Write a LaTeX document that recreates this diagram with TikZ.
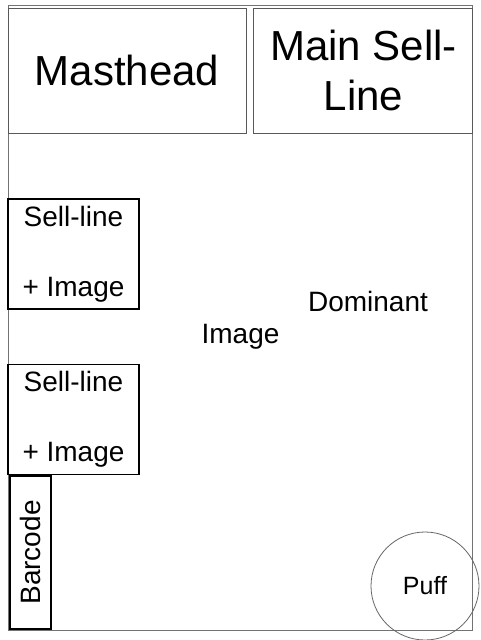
\documentclass[tikz,border=0pt]{standalone}
\usepackage{fontspec}
\setmainfont{Liberation Sans}
\usetikzlibrary{positioning}
\begin{document}
\begin{tikzpicture}[x=1pt,y=-1pt,align=center,inner sep=0pt]
\tikzstyle{panel}=[draw=black!65,line width=0.9pt]
\tikzstyle{insert}=[draw=black,line width=1.3pt,minimum width=131pt,minimum height=110pt,font=\fontsize{28}{70}\selectfont]
\tikzstyle{label}=[font=\fontsize{28}{32}\selectfont]

\useasboundingbox (0,0) rectangle (480,640);
\node[panel, draw=black!55, minimum width=464pt, minimum height=625pt] (page) at (240,317.5) {};

\node[panel, minimum width=238pt, minimum height=125pt, font=\fontsize{42}{50}\selectfont] (masthead) at (127,70.5) {Masthead};
\node[panel, minimum width=219pt, minimum height=125pt, font=\fontsize{42}{50}\selectfont] (mainsell) [right=7pt of masthead] {Main Sell-\\Line};

\node[insert] (sell1) at (73.5,254) {Sell-line\\+ Image};
\node[insert] (sell2) [below=54pt of sell1] {Sell-line\\+ Image};

\node[draw=black, line width=1.3pt, rotate=90, minimum width=153pt, minimum height=41pt, label] (barcode) at (30.5,552.5) {Barcode};

\node[label] (dominant) at (368,301) {Dominant};
\node[label] (image) at (240.5,337) {Image};

\node[circle, draw=black!60, line width=0.8pt, minimum size=108pt, font=\fontsize{25}{30}\selectfont] (puff) at (425,586) {Puff};
\end{tikzpicture}
\end{document}
